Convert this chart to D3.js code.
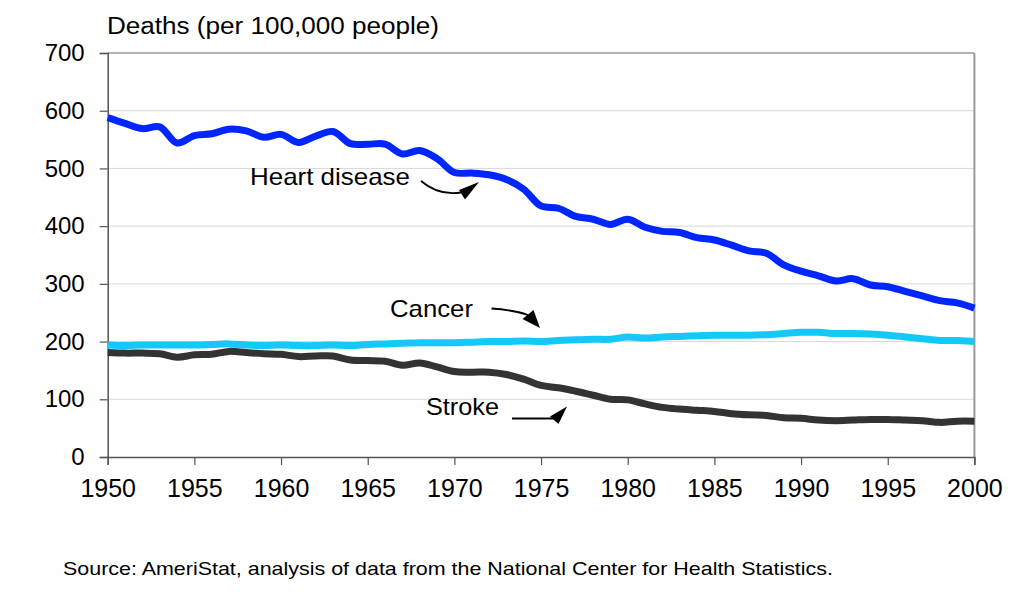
<!DOCTYPE html>
<html>
<head>
<meta charset="utf-8">
<script src="https://cdn.jsdelivr.net/npm/d3@7/dist/d3.min.js"></script>
<style>
  html, body { margin: 0; padding: 0; background: #fff; }
  svg { display: block; }
  text { font-family: "Liberation Sans", Arial, sans-serif; fill: #000; }
</style>
</head>
<body>
<svg id="chart" width="1024" height="612"></svg>
<script>
// ---- Data ----
const years = d3.range(1950, 2001);
const heartDisease = [588, 578, 569, 572, 544, 557, 560, 568, 565, 554,
  559, 545, 556, 564, 543, 542, 542, 525, 531, 517,
  493, 492, 489, 481, 464, 435, 431, 417, 412, 403,
  412, 398, 391, 389, 380, 376, 367, 357, 353, 333,
  322, 314, 305, 309, 298, 295, 287, 279, 271, 267, 258];
const cancer = [194, 193, 194, 194, 194, 194, 195, 196, 194, 193,
  194, 193, 193, 194, 193, 195, 196, 197, 198, 198,
  198, 199, 200, 200, 201, 200, 202, 203, 204, 204,
  208, 206, 208, 209, 210, 211, 211, 211, 212, 214,
  216, 216, 214, 214, 213, 211, 208, 205, 202, 202, 200];
const stroke = [181, 180, 180, 179, 173, 177, 178, 183, 181, 179,
  178, 174, 175, 175, 168, 167, 166, 159, 163, 156,
  148, 147, 147, 143, 135, 124, 120, 114, 107, 100,
  99, 92, 86, 83, 81, 79, 75, 73, 72, 68,
  67, 64, 63, 64, 65, 65, 64, 63, 60, 62, 62];
const xTicks = [1950, 1955, 1960, 1965, 1970, 1975, 1980, 1985, 1990, 1995, 2000];
const yTicks = [0, 100, 200, 300, 400, 500, 600, 700];
const seriesNames = ["Stroke", "Cancer", "Heart disease"];

// ---- Layout ----
const svg = d3.select("#chart");
const pLeft = 107.7, pRight = 974.4, pTop = 53, pBottom = 457;
const x = d3.scaleLinear().domain([1950, 2000]).range([pLeft, pRight]);
const y = d3.scaleLinear().domain([0, 700]).range([pBottom, pTop]);

// gridlines
svg.append("g").selectAll("line").data(yTicks.filter(t => t > 0 && t < 700)).join("line")
  .attr("x1", pLeft).attr("x2", pRight)
  .attr("y1", d => y(d)).attr("y2", d => y(d))
  .attr("stroke", "#d9d9d9").attr("stroke-width", 1);

// plot border top & right
svg.append("line").attr("x1", pLeft).attr("x2", pRight).attr("y1", y(700)).attr("y2", y(700))
  .attr("stroke", "#9a9a9a").attr("stroke-width", 1.5);
svg.append("line").attr("x1", pRight).attr("x2", pRight).attr("y1", pTop).attr("y2", pBottom)
  .attr("stroke", "#9a9a9a").attr("stroke-width", 2);

// axes
const xAxis = d3.axisBottom(x).tickValues(xTicks).tickFormat(d3.format("d")).tickSize(8).tickPadding(14);
const gx = svg.append("g").attr("transform", `translate(0,${pBottom})`).call(xAxis);
gx.select(".domain").attr("stroke", "#555").attr("stroke-width", 1.5);
gx.selectAll(".tick line").attr("stroke", "#555").attr("stroke-width", 1.2);
gx.selectAll(".tick text").attr("font-size", 25).attr("font-family", "Liberation Sans, Arial, sans-serif").attr("fill", "#000");

const yAxis = d3.axisLeft(y).tickValues(yTicks).tickSize(8).tickPadding(15);
const gy = svg.append("g").attr("transform", `translate(${pLeft},0)`).call(yAxis);
gy.select(".domain").attr("stroke", "#555").attr("stroke-width", 1.5);
gy.selectAll(".tick line").attr("stroke", "#555").attr("stroke-width", 1.2);
gy.selectAll(".tick text").attr("font-size", 24).attr("font-family", "Liberation Sans, Arial, sans-serif").attr("fill", "#000");

// lines
const line = d3.line().x((d, i) => x(years[i])).y(d => y(d)).curve(d3.curveCatmullRom.alpha(0.5));
const series = [
  { name: seriesNames[0], values: stroke, color: "#333333" },
  { name: seriesNames[1], values: cancer, color: "#14c8fa" },
  { name: seriesNames[2], values: heartDisease, color: "#0026ff" }
];
svg.append("g").selectAll("path").data(series).join("path")
  .attr("d", d => line(d.values))
  .attr("fill", "none")
  .attr("stroke", d => d.color)
  .attr("stroke-width", 7)
  .attr("stroke-linejoin", "round")
  .attr("stroke-linecap", "butt");

// title
svg.append("text").attr("x", 107).attr("y", 34).attr("font-size", 23)
  .attr("textLength", 332).attr("lengthAdjust", "spacingAndGlyphs")
  .text("Deaths (per 100,000 people)");

// labels
svg.append("text").attr("x", 250).attr("y", 185).attr("font-size", 24)
  .attr("textLength", 160).attr("lengthAdjust", "spacingAndGlyphs").text(seriesNames[2]);
svg.append("text").attr("x", 390).attr("y", 317).attr("font-size", 24)
  .attr("textLength", 83).attr("lengthAdjust", "spacingAndGlyphs").text(seriesNames[1]);
svg.append("text").attr("x", 426).attr("y", 415).attr("font-size", 24)
  .attr("textLength", 73).attr("lengthAdjust", "spacingAndGlyphs").text(seriesNames[0]);

// arrows
const arrows = svg.append("g");
arrows.append("path").attr("d", "M421,181 Q440,197 463,192").attr("fill", "none").attr("stroke", "#000").attr("stroke-width", 1.8);
arrows.append("path").attr("d", "M459,190 L479,182 L465,199.5 Z").attr("fill", "#000");
arrows.append("path").attr("d", "M491.5,308.5 Q514,310 528,315").attr("fill", "none").attr("stroke", "#000").attr("stroke-width", 1.8);
arrows.append("path").attr("d", "M522.5,319 L533.5,310 L540,328 Z").attr("fill", "#000");
arrows.append("path").attr("d", "M512,418.5 L555,418.5").attr("fill", "none").attr("stroke", "#000").attr("stroke-width", 1.8);
arrows.append("path").attr("d", "M550,416.5 L567,406.5 L558.5,424 Z").attr("fill", "#000");

// source
svg.append("text").attr("x", 63).attr("y", 575).attr("font-size", 19)
  .attr("font-family", "Liberation Sans Narrow, Liberation Sans, Arial, sans-serif")
  .attr("textLength", 770).attr("lengthAdjust", "spacingAndGlyphs")
  .text("Source: AmeriStat, analysis of data from the National Center for Health Statistics.");
</script>
</body>
</html>
